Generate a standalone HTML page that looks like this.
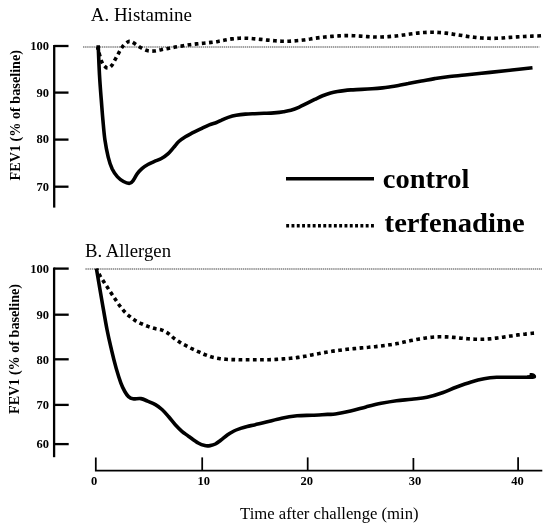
<!DOCTYPE html>
<html lang="en"><head><meta charset="utf-8"><title>FEV1 after challenge</title>
<style>html,body{margin:0;padding:0;background:#fff}svg{display:block}</style></head>
<body>
<svg width="550" height="529" viewBox="0 0 550 529">
<rect width="550" height="529" fill="#fff"/>
<g stroke="#404040" stroke-width="1.15" stroke-dasharray="1.4 0.7" fill="none"><path d="M83 47H539.3"/><path d="M85.4 269H542"/></g>
<g stroke="#000" stroke-width="2.3" fill="none" stroke-linecap="butt">
<path d="M54.2 45V207.6"/><path d="M54.2 46.0H68.5"/><path d="M54.2 92.6H68.5"/><path d="M54.2 139.6H68.5"/><path d="M54.2 186.7H68.5"/>
<path d="M54.1 267.5V457.2"/><path d="M54.1 268.6H68.7"/><path d="M54.1 314.7H68.7"/><path d="M54.1 359.3H68.7"/><path d="M54.1 404.9H68.7"/><path d="M54.1 444.1H68.7"/>
</g>
<g stroke="#000" stroke-width="1.75" fill="none"><path d="M95.8 457.4V470.7H542.3"/><path d="M202.2 457.4V470.7"/><path d="M307.7 457.4V470.7"/><path d="M413.4 458V470.7"/><path d="M518.1 457.2V470.7"/></g>
<g stroke="#000" fill="none" stroke-linejoin="round">
<path stroke-width="3.6" d="M98.2 45.2C98.4 50.2 99.0 65.9 99.5 75.0C100.0 84.1 100.7 92.5 101.3 100.0C101.9 107.5 102.3 113.4 102.9 120.0C103.5 126.6 104.0 133.6 104.9 139.8C105.8 146.0 107.0 152.2 108.2 157.1C109.4 162.0 110.7 165.7 112.2 169.0C113.8 172.3 115.6 174.8 117.5 176.9C119.4 179.0 121.5 180.4 123.5 181.5C125.5 182.6 128.0 183.5 129.7 183.3C131.3 183.1 132.1 181.9 133.4 180.2C134.7 178.5 136.0 175.3 137.5 173.3C139.0 171.3 140.5 169.8 142.2 168.3C143.9 166.8 145.8 165.7 147.9 164.5C150.0 163.3 152.2 162.4 154.5 161.4C156.8 160.4 159.1 159.8 161.4 158.5C163.7 157.2 166.2 155.4 168.2 153.6C170.2 151.8 171.7 149.6 173.5 147.6C175.3 145.6 176.8 143.3 178.8 141.5C180.8 139.7 183.0 138.2 185.4 136.7C187.8 135.2 190.8 133.8 193.4 132.4C196.1 131.1 198.7 129.8 201.3 128.6C204.0 127.3 206.8 125.9 209.3 124.9C211.8 123.9 214.4 123.3 216.5 122.5C218.6 121.7 219.7 120.9 221.6 120.1C223.5 119.2 225.8 118.2 228.2 117.4C230.6 116.6 233.3 115.8 236.2 115.3C239.1 114.8 242.3 114.4 245.4 114.1C248.5 113.8 251.6 113.8 254.7 113.7C257.8 113.6 260.8 113.4 264.0 113.3C267.2 113.2 270.8 113.2 274.0 112.9C277.2 112.6 280.7 112.2 283.5 111.7C286.3 111.2 288.3 110.9 290.9 110.2C293.4 109.5 296.1 108.5 298.8 107.3C301.5 106.1 304.2 104.6 306.8 103.3C309.4 102.0 312.1 100.7 314.7 99.4C317.3 98.2 320.0 96.8 322.6 95.8C325.2 94.8 328.1 93.8 330.6 93.1C333.1 92.4 335.3 92.0 337.5 91.6C339.7 91.2 341.8 90.9 344.0 90.6C346.2 90.3 348.0 90.1 350.9 89.9C353.8 89.7 358.0 89.6 361.5 89.4C365.0 89.2 368.5 89.0 372.0 88.7C375.5 88.5 379.5 88.2 382.6 87.9C385.7 87.6 388.0 87.2 390.6 86.8C393.2 86.4 395.6 86.0 398.5 85.5C401.4 85.0 404.4 84.3 408.2 83.6C412.0 82.8 417.1 81.8 421.5 81.0C425.9 80.2 430.3 79.3 434.7 78.6C439.1 77.9 442.8 77.3 447.9 76.7C452.9 76.1 458.0 75.7 465.0 75.0C472.0 74.3 482.2 73.2 490.0 72.4C497.8 71.6 504.9 70.8 512.0 70.0C519.1 69.2 529.1 68.1 532.5 67.7"/>
<path stroke-width="3.6" d="M96.4 268.5C97.3 273.9 100.1 290.4 101.9 300.7C103.7 310.9 105.5 321.8 107.1 330.0C108.7 338.2 110.0 343.4 111.5 349.8C113.0 356.2 114.7 362.9 116.2 368.4C117.8 373.9 119.4 379.0 120.8 382.9C122.2 386.8 123.5 389.2 124.8 391.5C126.1 393.8 127.2 395.4 128.5 396.6C129.8 397.8 130.8 398.5 132.9 398.8C135.0 399.1 138.5 398.2 140.9 398.6C143.3 399.0 145.1 400.1 147.5 401.1C149.9 402.1 153.0 403.2 155.4 404.6C157.8 406.0 159.8 407.5 162.0 409.5C164.2 411.5 166.5 414.3 168.7 416.8C170.9 419.3 173.1 422.3 175.3 424.7C177.5 427.1 179.7 429.4 181.9 431.3C184.1 433.2 185.8 434.2 188.5 436.2C191.2 438.1 195.5 441.4 198.2 443.0C200.9 444.6 202.8 445.2 204.8 445.6C206.8 446.0 208.3 445.9 210.1 445.6C211.9 445.3 213.6 444.9 215.4 444.0C217.2 443.1 218.7 441.8 220.7 440.3C222.7 438.8 225.1 436.6 227.3 435.0C229.5 433.4 231.8 432.1 234.0 431.0C236.2 429.9 238.4 429.2 240.6 428.4C242.8 427.6 244.9 427.0 247.2 426.4C249.5 425.8 251.3 425.6 254.5 424.9C257.7 424.2 261.8 423.2 266.3 422.1C270.8 421.0 276.5 419.2 281.6 418.2C286.7 417.1 291.9 416.3 297.0 415.8C302.1 415.3 307.1 415.5 312.2 415.3C317.3 415.1 323.6 414.6 327.5 414.4C331.4 414.2 331.4 414.6 335.3 414.0C339.2 413.4 345.5 412.1 350.6 410.9C355.7 409.7 360.9 408.2 366.0 406.9C371.1 405.6 376.1 404.3 381.2 403.3C386.3 402.3 391.4 401.4 396.5 400.7C401.6 400.0 406.7 399.8 411.8 399.2C416.9 398.6 421.9 398.4 427.0 397.3C432.1 396.2 437.6 394.5 442.4 392.8C447.2 391.1 451.2 389.0 456.0 387.2C460.8 385.4 466.5 383.3 471.2 381.9C475.9 380.5 479.8 379.5 484.0 378.7C488.2 377.9 492.0 377.5 496.7 377.3C501.4 377.1 507.3 377.3 512.0 377.3C516.7 377.3 521.3 377.3 524.8 377.3C528.3 377.3 531.6 377.2 533.0 377.2"/>
<path stroke-width="3.6" stroke-dasharray="3.7 3.47" stroke-dashoffset="1.07" d="M97.5 47.0C98.2 49.4 100.3 58.1 101.6 61.4C102.9 64.7 104.1 65.7 105.3 66.8C106.5 67.9 107.4 68.1 108.5 67.9C109.6 67.7 110.7 66.8 111.8 65.4C112.9 64.0 113.9 61.7 115.1 59.6C116.3 57.5 117.6 54.9 118.8 52.8C120.0 50.7 120.9 48.7 122.4 46.9C123.9 45.1 126.3 42.9 127.7 42.0C129.1 41.1 129.8 41.3 131.0 41.6C132.2 41.9 133.1 42.6 134.7 43.6C136.3 44.6 138.4 46.3 140.5 47.5C142.6 48.7 144.9 50.0 147.2 50.6C149.4 51.2 151.7 51.2 154.0 51.0C156.3 50.8 158.8 50.1 161.2 49.7C163.6 49.2 166.0 48.8 168.3 48.4C170.6 48.0 172.8 47.5 175.1 47.1C177.4 46.7 180.0 46.2 182.4 45.9C184.8 45.5 187.0 45.1 189.4 44.8C191.8 44.5 194.2 44.2 196.6 43.9C199.0 43.6 201.2 43.4 203.6 43.2C206.0 42.9 208.5 42.7 210.9 42.4C213.3 42.1 215.7 41.8 218.0 41.4C220.3 41.0 222.6 40.5 224.9 40.1C227.2 39.7 229.5 39.2 231.9 38.9C234.3 38.6 236.7 38.4 239.1 38.2C241.5 38.1 243.8 38.2 246.2 38.2C248.6 38.3 251.0 38.5 253.4 38.7C255.8 38.9 258.3 39.2 260.7 39.4C263.1 39.6 265.3 39.9 267.7 40.1C270.1 40.3 272.4 40.6 274.8 40.8C277.2 40.9 279.5 41.1 281.9 41.2C284.2 41.3 286.5 41.3 288.9 41.2C291.3 41.1 293.8 40.9 296.2 40.7C298.6 40.5 300.8 40.3 303.2 40.0C305.6 39.7 307.9 39.3 310.3 39.0C312.7 38.6 315.2 38.2 317.6 37.9C320.0 37.6 322.4 37.3 324.8 37.0C327.2 36.8 329.5 36.6 331.9 36.4C334.2 36.2 336.6 36.0 338.9 35.9C341.2 35.8 343.5 35.6 345.9 35.6C348.2 35.6 350.6 35.6 353.0 35.7C355.4 35.8 357.7 36.0 360.1 36.1C362.5 36.2 364.9 36.5 367.3 36.6C369.7 36.8 372.0 36.9 374.4 37.0C376.8 37.1 379.2 37.1 381.6 37.0C384.0 36.9 386.3 36.8 388.7 36.6C391.1 36.4 393.5 36.2 395.9 36.0C398.3 35.7 400.8 35.4 403.2 35.0C405.6 34.7 407.8 34.3 410.2 34.0C412.6 33.7 415.1 33.4 417.5 33.1C419.9 32.8 422.0 32.6 424.4 32.5C426.8 32.3 429.4 32.2 431.8 32.2C434.2 32.2 436.5 32.3 438.9 32.5C441.2 32.6 443.5 32.8 445.9 33.1C448.2 33.4 450.6 33.7 453.0 34.1C455.4 34.4 457.7 34.9 460.1 35.2C462.5 35.6 464.9 36.0 467.3 36.4C469.7 36.7 472.0 37.0 474.4 37.3C476.8 37.6 479.2 37.8 481.6 38.0C484.0 38.2 486.4 38.3 488.8 38.3C491.2 38.4 493.6 38.4 495.9 38.3C498.2 38.2 500.5 38.1 502.8 38.0C505.1 37.8 507.4 37.6 509.8 37.4C512.2 37.2 514.8 37.1 517.2 36.9C519.6 36.8 521.7 36.6 524.2 36.5C526.7 36.4 529.4 36.2 532.2 36.1C535.0 36.0 539.7 35.9 541.2 35.8"/>
<path stroke-width="3.6" stroke-dasharray="3.7 3.47" stroke-dashoffset="1.77" d="M96.6 269.0C97.1 270.1 98.7 273.5 99.9 275.6C101.1 277.8 102.6 279.9 103.9 281.9C105.2 284.0 106.6 286.0 107.9 288.1C109.2 290.1 110.5 292.1 111.8 294.1C113.1 296.1 114.5 298.1 115.8 300.0C117.1 302.0 118.4 303.9 119.8 305.8C121.2 307.6 122.5 309.5 124.1 311.2C125.7 312.9 127.5 314.6 129.3 316.1C131.1 317.6 133.0 319.1 135.0 320.4C137.0 321.6 139.1 322.7 141.3 323.7C143.5 324.7 145.7 325.6 148.0 326.4C150.3 327.2 152.7 328.0 155.0 328.6C157.3 329.2 159.7 329.3 161.9 330.1C164.1 330.9 166.3 332.2 168.3 333.5C170.3 334.8 171.9 336.6 173.8 338.1C175.7 339.6 177.8 341.0 179.8 342.3C181.8 343.6 183.9 344.6 186.0 345.7C188.1 346.8 190.1 347.9 192.3 348.9C194.5 349.9 196.8 351.0 199.0 351.9C201.2 352.9 203.2 353.9 205.3 354.8C207.5 355.6 209.6 356.4 211.9 357.1C214.2 357.7 216.6 358.1 219.0 358.5C221.4 358.9 223.7 359.1 226.1 359.3C228.5 359.5 230.9 359.6 233.3 359.6C235.7 359.7 238.0 359.7 240.4 359.8C242.8 359.8 245.2 359.8 247.6 359.8C250.0 359.8 252.3 359.8 254.7 359.8C257.1 359.8 259.5 359.8 261.9 359.8C264.3 359.8 266.6 359.7 269.0 359.7C271.4 359.6 274.0 359.5 276.4 359.4C278.8 359.3 281.1 359.1 283.5 358.9C285.9 358.7 288.2 358.5 290.6 358.3C293.0 358.1 295.4 357.8 297.8 357.4C300.2 357.1 302.5 356.7 304.8 356.3C307.1 355.9 309.4 355.4 311.8 354.9C314.2 354.5 316.6 354.0 319.0 353.6C321.4 353.1 323.7 352.7 326.0 352.3C328.3 351.9 330.7 351.5 333.0 351.1C335.3 350.8 337.6 350.5 339.9 350.2C342.2 349.9 344.5 349.6 346.9 349.3C349.3 349.1 351.8 348.8 354.2 348.6C356.6 348.4 359.0 348.2 361.4 347.9C363.8 347.7 366.1 347.5 368.5 347.3C370.9 347.0 373.3 346.8 375.7 346.6C378.1 346.3 380.4 346.1 382.8 345.8C385.2 345.5 387.5 345.2 389.9 344.8C392.3 344.5 394.7 344.1 397.0 343.6C399.3 343.2 401.6 342.6 403.9 342.1C406.2 341.6 408.5 341.1 410.9 340.6C413.3 340.1 415.7 339.7 418.1 339.2C420.5 338.8 422.8 338.4 425.1 338.1C427.4 337.7 429.8 337.4 432.1 337.2C434.5 337.0 436.8 336.9 439.2 336.8C441.6 336.8 444.0 336.8 446.4 336.9C448.8 337.0 451.2 337.2 453.6 337.4C456.0 337.6 458.2 337.8 460.6 338.1C463.0 338.3 465.3 338.6 467.7 338.8C470.1 338.9 472.5 339.1 474.9 339.2C477.3 339.3 479.6 339.3 482.0 339.3C484.4 339.2 486.8 339.1 489.2 338.9C491.6 338.7 493.9 338.4 496.3 338.1C498.7 337.8 501.1 337.4 503.5 337.1C505.9 336.7 508.2 336.4 510.6 336.0C513.0 335.6 515.4 335.3 517.8 334.9C520.2 334.6 522.8 334.3 525.2 334.1C527.6 333.8 530.8 333.5 532.4 333.3C534.0 333.1 534.3 333.1 534.7 333.1"/>
<path stroke="none" fill="#000" d="M529.6 373.1C532.5 372.5 536.6 374 536.1 377C535.7 379.4 531 379.1 527 379.1L527 375.6C529.4 375.6 530.2 374.8 529.6 373.1Z"/>
<path stroke-width="3.6" d="M286 178.8H374"/>
<path stroke-width="3.4" stroke-dasharray="2.9 2.4" d="M286.2 225.8H374"/>
</g>
<g font-family="&quot;Liberation Serif&quot;, serif" fill="#000">
<text x="90.8" y="21" font-size="18" textLength="101" lengthAdjust="spacingAndGlyphs">A. Histamine</text>
<text x="85" y="257.1" font-size="18" textLength="86" lengthAdjust="spacingAndGlyphs">B. Allergen</text>
<text x="240.1" y="518.9" font-size="16.5" textLength="178.5" lengthAdjust="spacingAndGlyphs">Time after challenge (min)</text>
<g font-weight="bold">
<text x="382.8" y="187.5" font-size="28" textLength="86.5" lengthAdjust="spacingAndGlyphs">control</text>
<text x="384.6" y="231.7" font-size="28" textLength="140" lengthAdjust="spacingAndGlyphs">terfenadine</text>
<g font-size="12.5" text-anchor="end">
<text x="48.9" y="50.4">100</text>
<text x="48.9" y="96.9">90</text>
<text x="48.9" y="142.8">80</text>
<text x="48.9" y="191.0">70</text>
<text x="48.9" y="273.3">100</text>
<text x="48.9" y="318.7">90</text>
<text x="48.9" y="363.8">80</text>
<text x="48.9" y="409.2">70</text>
<text x="48.9" y="448.2">60</text>
</g>
<g font-size="12.5" text-anchor="middle">
<text x="94.0" y="484.6">0</text>
<text x="203.7" y="484.6">10</text>
<text x="306.8" y="484.6">20</text>
<text x="415.1" y="484.6">30</text>
<text x="517.5" y="484.6">40</text>
</g>
<text transform="translate(20.4 180.5) rotate(-90)" font-size="14" textLength="130.5" lengthAdjust="spacingAndGlyphs">FEV1 (% of baseline)</text>
<text transform="translate(19.1 414) rotate(-90)" font-size="14" textLength="130" lengthAdjust="spacingAndGlyphs">FEV1 (% of baseline)</text>
</g></g>
</svg>
</body></html>
